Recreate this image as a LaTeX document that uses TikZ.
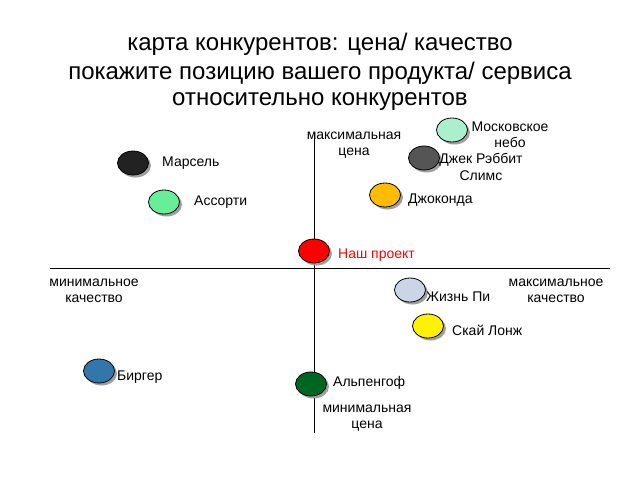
\documentclass[tikz,border=0pt]{standalone}
\usepackage{fontspec}
\setmainfont{Liberation Sans}
\usetikzlibrary{shapes.geometric}
\newcommand{\mydot}[4]{%
  \node[dotshadow] (#1s) at (#2+2.5,#3+2.5) {};
  \node[dot,fill={#4}] (#1) at (#2,#3) {};}
\begin{document}
\begin{tikzpicture}[x=1pt,y=-1pt,
  dotshadow/.style={ellipse,fill=gray!75,minimum width=31pt,minimum height=24pt,inner sep=0pt},
  dot/.style={ellipse,draw=black,line width=0.8pt,minimum width=31pt,minimum height=24pt,inner sep=0pt},
  lbl/.style={font=\fontsize{14}{16.5}\selectfont,align=center,inner sep=0pt},
  ttl/.style={font=\fontsize{24}{28}\selectfont,inner sep=0pt},
  ax/.style={line width=0.8pt}]
\useasboundingbox (0,0) rectangle (638,479);
\node[ttl] (t1) at (320,44) {карта конкурентов: цена/ качество};
\node[ttl] (t2) at (320,73) {покажите позицию вашего продукта/ сервиса};
\node[ttl] (t3) at (320,102) {относительно конкурентов};
\coordinate (vt) at (314,133); \coordinate (vb) at (314,433);
\coordinate (hl) at (50,268); \coordinate (hr) at (610,268);
\draw[ax] (vt) -- (vb); \draw[ax] (hl) -- (hr);
\mydot{m}{133}{163}{rgb,255:red,34;green,34;blue,34}
\mydot{a}{164}{202}{rgb,255:red,102;green,238;blue,153}
\mydot{mn}{452}{130}{rgb,255:red,170;green,240;blue,204}
\mydot{dz}{424}{158}{rgb,255:red,85;green,85;blue,85}
\mydot{dk}{385}{195}{rgb,255:red,255;green,187;blue,0}
\mydot{n}{314}{251}{red}
\mydot{zp}{410}{290}{rgb,255:red,204;green,212;blue,232}
\mydot{sl}{428}{326}{yellow}
\mydot{b}{99}{371}{rgb,255:red,51;green,119;blue,170}
\mydot{al}{311}{384}{rgb,255:red,0;green,102;blue,34}
\node[lbl,anchor=west] (lm) at (162,163) {Марсель};
\node[lbl,anchor=west] (la) at (194,202) {Ассорти};
\node[lbl] (lmn) at (510,135) {Московское\\небо};
\node[lbl] (ldz) at (481,167) {Джек Рэббит\\Слимс};
\node[lbl,anchor=west] (ldk) at (408,200) {Джоконда};
\node[lbl,anchor=west,text=red] (ln) at (338,255) {Наш проект};
\node[lbl,anchor=west] (lzp) at (426,297) {Жизнь Пи};
\node[lbl,anchor=west] (lsl) at (452,330) {Скай Лонж};
\node[lbl,anchor=west] (lb) at (117,377) {Биргер};
\node[lbl,anchor=west] (lal) at (333,383) {Альпенгоф};
\node[lbl] (maxc) at (354,145) {максимальная\\цена};
\node[lbl] (minq) at (94,291) {минимальное\\качество};
\node[lbl] (maxq) at (556,291) {максимальное\\качество};
\node[lbl] (minc) at (367,418) {минимальная\\цена};
\end{tikzpicture}
\end{document}
